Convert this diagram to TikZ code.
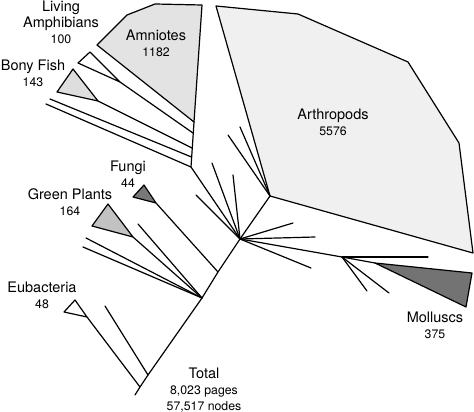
\documentclass[tikz,border=0pt]{standalone}
\usepackage{fontspec}
\setmainfont{TeX Gyre Heros}
\definecolor{amnfill}{gray}{0.89}
\definecolor{arthfill}{gray}{0.94}
\definecolor{fishfill}{gray}{0.87}
\definecolor{plantfill}{gray}{0.76}
\definecolor{fungfill}{gray}{0.47}
\definecolor{mollfill}{gray}{0.45}
\newcommand{\cnt}[1]{{\fontsize{12.3}{14}\selectfont #1}}
\tikzset{
	br/.style={line width=1.2pt, line cap=round, line join=round},
	clade/.style={font=\fontsize{14.5}{16}\selectfont, align=center, inner sep=0pt}
}
\begin{document}
\begin{tikzpicture}[x=1pt, y=-1pt]
	\useasboundingbox (0,0) rectangle (474,412);
	
	% trunk
	\coordinate (root) at (135,395);
	\coordinate (eub) at (140,387);
	\coordinate (split) at (148,375);
	\coordinate (plants) at (202,298);
	\coordinate (fungi) at (218,272);
	\coordinate (hub) at (240,239);
	\coordinate (arth) at (270,196);
	\coordinate (moll) at (342,257);
	\coordinate (amn) at (191,167);
	\coordinate (amntop) at (194,122);
	\draw[br] (root) -- (eub) -- (split) -- (plants) -- (fungi) -- (hub);
	
	% big groups
	\draw[br, fill=arthfill] (arth) -- (216,6) -- (298,14) -- (408,62) -- (459,143) -- (473,253) -- cycle;
	\draw[br, fill=amnfill] (amntop) -- (97,45) -- (127,15) -- (155,4) -- (202,5) -- cycle;
	\draw[br] (amntop) -- (amn);
	
	% leaves off the hub
	\foreach \n/\x/\y in {h1/196/195, h2/212/163, h3/233/175, h4/293/223, h5/315/237, h6/311/268}
	{
		\coordinate (\n) at (\x,\y);
		\draw[br] (hub) -- (\n);
	}
	\draw[br] (hub) -- (amn);
	\draw[br] (hub) -- (arth);
	\draw[br] (hub) -- (moll);
	\foreach \n/\x/\y in {r1/240/127, r2/228/135}
	{
		\coordinate (\n) at (\x,\y);
		\draw[br] (arth) -- (\n);
	}
	
	% molluscs
	\coordinate (mtip) at (375,263);
	\foreach \n/\x/\y in {m1/428/257, m2/367/291, m3/389/293}
	{
		\coordinate (\n) at (\x,\y);
		\draw[br] (moll) -- (\n);
	}
	\draw[br] (moll) -- (mtip);
	\draw[br, fill=mollfill] (mtip) -- (472,273) -- (466,307) -- cycle;
	
	% amphibians, bony fish and the rest
	\coordinate (amph) at (120,82);
	\coordinate (fish) at (98,101);
	\coordinate (v1) at (193,133);
	\coordinate (v2) at (192,148);
	\coordinate (v3) at (191.5,157);
	\coordinate (w1) at (50,99);
	\coordinate (w2) at (46,104);
	\draw[br] (90,52) -- (78,63) -- (amph) -- cycle;
	\draw[br] (amph) -- (v1);
	\draw[br, fill=fishfill] (73,69) -- (57,92) -- (fish) -- cycle;
	\draw[br] (fish) -- (v2);
	\draw[br] (w1) -- (v3);
	\draw[br] (w2) -- (amn);
	
	% fungi, plants
	\coordinate (ftip) at (156,203);
	\draw[br, fill=fungfill] (133,197) -- (144,185) -- (ftip) -- cycle;
	\draw[br] (ftip) -- (fungi);
	\coordinate (ptip) at (133,237);
	\draw[br, fill=plantfill] (92,226) -- (108,204) -- (ptip) -- cycle;
	\draw[br] (ptip) -- (plants);
	\foreach \n/\x/\y in {p1/138/224, p2/86/238, p3/83/247}
	{
		\coordinate (\n) at (\x,\y);
		\draw[br] (plants) -- (\n);
	}
	
	% eubacteria
	\coordinate (etip) at (87,317);
	\draw[br] (64,312) -- (75,300) -- (etip) -- cycle;
	\draw[br] (etip) -- (eub);
	\coordinate (s1) at (105,306);
	\draw[br] (split) -- (s1);
	
	% labels
	\node[clade] (lamph) at (61,22) {Living\\Amphibians\\\cnt{100}};
	\node[clade] (lamn) at (156,43) {Amniotes\\\cnt{1182}};
	\node[clade] (lfish) at (33,73) {Bony Fish\\\cnt{143}};
	\node[clade] (lfung) at (128,174) {Fungi\\\cnt{44}};
	\node[clade] (lplant) at (70,202) {Green Plants\\\cnt{164}};
	\node[clade] (leub) at (42,295) {Eubacteria\\\cnt{48}};
	\node[clade] (ltot) at (204,390) {Total\\\cnt{8,023 pages}\\\cnt{57,517 nodes}};
	\node[clade] (larth) at (333,122) {Arthropods\\\cnt{5576}};
	\node[clade] (lmoll) at (435,325) {Molluscs\\\cnt{375}};
\end{tikzpicture}
\end{document}
